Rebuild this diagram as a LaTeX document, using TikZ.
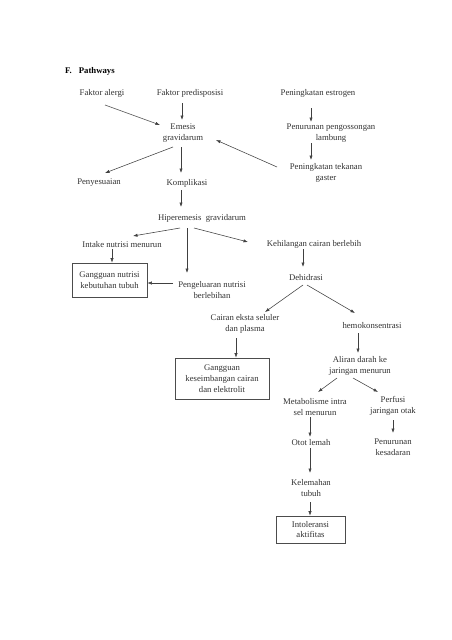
\documentclass[tikz,border=0pt]{standalone}
\usepackage{fontspec}
\setmainfont{Liberation Serif}
\usetikzlibrary{arrows.meta}
\begin{document}
\begin{tikzpicture}[x=1pt,y=-1pt,
  lbl/.style={align=center,inner sep=1pt,font=\fontsize{8.7}{10.8}\selectfont,text=black!80},
  boxn/.style={lbl,draw=black!70,line width=0.6pt,minimum width=#1},
  arr/.style={-{Latex[length=4.5pt,width=3.2pt]},line width=0.55pt,draw=black!75}]
\useasboundingbox (0,0) rectangle (452,640);
\fill[white] (0,0) rectangle (452,640);
\node[lbl,anchor=west,text=black,font=\fontsize{8.7}{10.8}\selectfont\bfseries] (title) at (64,71) {F.\hspace{7pt}Pathways};
\node[lbl] (alergi) at (102,93) {Faktor alergi};
\node[lbl] (predis) at (190,93) {Faktor predisposisi};
\node[lbl] (estrogen) at (318,93) {Peningkatan estrogen};
\node[lbl] (emesis) at (183,133) {Emesis\\gravidarum};
\node[lbl] (penurunan) at (331,133) {Penurunan pengossongan\\lambung};
\node[lbl] (tekanan) at (326,173) {Peningkatan tekanan\\gaster};
\node[lbl] (peny) at (99,183) {Penyesuaian};
\node[lbl] (kompl) at (187,183) {Komplikasi};
\node[lbl] (hiper) at (202,218) {Hiperemesis\ \ gravidarum};
\node[lbl] (intake) at (122,245) {Intake nutrisi menurun};
\node[lbl] (kehil) at (314,244) {Kehilangan cairan berlebih};
\node[boxn=75pt,minimum height=34pt] (gnut) at (109.5,280) {Gangguan nutrisi\\kebutuhan tubuh};
\node[lbl] (pengel) at (212,290) {Pengeluaran nutrisi\\berlebihan};
\node[lbl] (dehid) at (306,278) {Dehidrasi};
\node[lbl] (cairan) at (245,324) {Cairan eksta seluler\\dan plasma};
\node[boxn=94pt,minimum height=41pt] (gkes) at (222,378.5) {Gangguan\\keseimbangan cairan\\dan elektrolit};
\node[lbl] (hemo) at (372,326) {hemokonsentrasi};
\node[lbl] (aliran) at (360,366) {Aliran darah ke\\jaringan menurun};
\node[lbl] (metab) at (315,407) {Metabolisme intra\\sel menurun};
\node[lbl] (perfusi) at (393,406) {Perfusi\\jaringan otak};
\node[lbl] (otot) at (311,443) {Otot lemah};
\node[lbl] (kelem) at (311,488) {Kelemahan\\tubuh};
\node[boxn=69pt,minimum height=27pt] (intol) at (310.5,529.5) {Intoleransi\\aktifitas};
\node[lbl] (penkes) at (393,447) {Penurunan\\kesadaran};

\draw[arr] ([shift={(3,12)}]alergi.center) -- ([shift={(-23,-8)}]emesis.center);
\draw[arr] ([shift={(-8,10)}]predis.center) -- ([shift={(-1,-13)}]emesis.center);
\draw[arr] ([shift={(-7,15)}]estrogen.center) -- ([shift={(-20,-11)}]penurunan.center);
\draw[arr] ([shift={(-20,10)}]penurunan.center) -- ([shift={(-15,-13)}]tekanan.center);
\draw[arr] ([shift={(-49,-6)}]tekanan.center) -- ([shift={(33,7)}]emesis.center);
\draw[arr] ([shift={(-10,14)}]emesis.center) -- ([shift={(6,-10)}]peny.center);
\draw[arr] ([shift={(-2,14)}]emesis.center) -- ([shift={(-6,-10)}]kompl.center);
\draw[arr] ([shift={(-6,7)}]kompl.center) -- ([shift={(-21,-11)}]hiper.center);
\draw[arr] ([shift={(-22,10)}]hiper.center) -- ([shift={(11,-9)}]intake.center);
\draw[arr] ([shift={(-15,10)}]hiper.center) -- ([shift={(-25,-17)}]pengel.center);
\draw[arr] ([shift={(-8,10)}]hiper.center) -- ([shift={(-66,-2)}]kehil.center);
\draw[arr] ([shift={(-10,4)}]intake.center) -- ([shift={(2.5,0)}]gnut.north);
\draw[arr] ([shift={(-39,-7)}]pengel.center) -- ([shift={(0,3)}]gnut.east);
\draw[arr] ([shift={(-11,5)}]kehil.center) -- ([shift={(-3,-11)}]dehid.center);
\draw[arr] ([shift={(-3,7)}]dehid.center) -- ([shift={(20,-12)}]cairan.center);
\draw[arr] ([shift={(1,7)}]dehid.center) -- ([shift={(-17,-13)}]hemo.center);
\draw[arr] ([shift={(-9,14)}]cairan.center) -- ([shift={(14,0)}]gkes.north);
\draw[arr] ([shift={(-14,7)}]hemo.center) -- ([shift={(-2,-13)}]aliran.center);
\draw[arr] ([shift={(-23,12)}]aliran.center) -- ([shift={(3,-15)}]metab.center);
\draw[arr] ([shift={(-7,12)}]aliran.center) -- ([shift={(-15,-14)}]perfusi.center);
\draw[arr] ([shift={(-5,10)}]metab.center) -- ([shift={(-1,-6)}]otot.center);
\draw[arr] ([shift={(-1,5)}]otot.center) -- ([shift={(-1,-15)}]kelem.center);
\draw[arr] ([shift={(-1,14)}]kelem.center) -- ([shift={(-0.5,0)}]intol.north);
\draw[arr] ([shift={(0,14)}]perfusi.center) -- ([shift={(0,-14)}]penkes.center);
\end{tikzpicture}
\end{document}
